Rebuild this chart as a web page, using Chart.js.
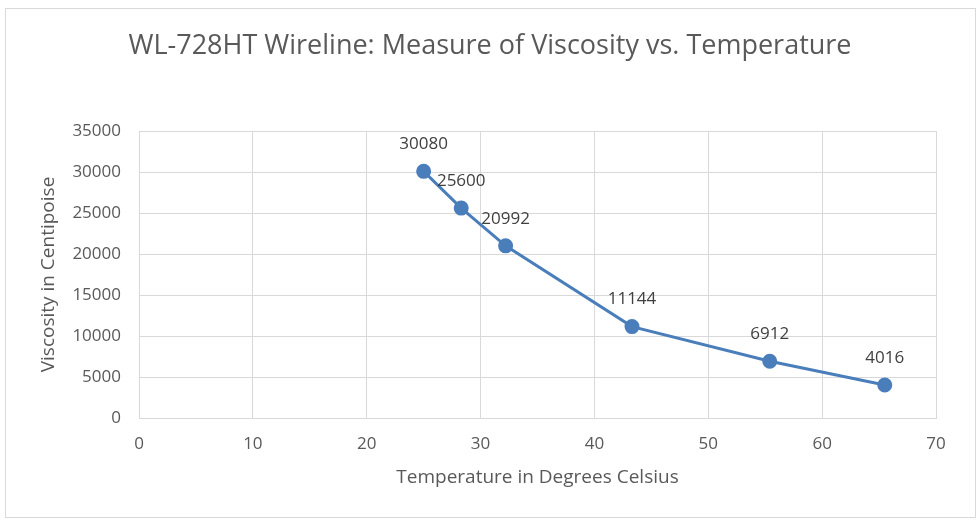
<!DOCTYPE html>
<html><head><meta charset="utf-8">
<script src="https://cdn.jsdelivr.net/npm/chart.js@4"></script>
<style>
html,body{margin:0;padding:0;background:#fff;}
#wrap{position:relative;width:980px;height:523px;}
#frame{position:absolute;left:5px;top:8px;width:969px;height:508px;border:1px solid #d9d9d9;pointer-events:none;}
</style></head>
<body>
<div id="wrap"><canvas id="c" width="980" height="523"></canvas><div id="frame"></div></div>
<script>
const temperatures = [25, 28.3, 32.2, 43.3, 55.4, 65.5];
const viscosities = [30080, 25600, 20992, 11144, 6912, 4016];
const xTicks = [0, 10, 20, 30, 40, 50, 60, 70];
const yTicks = [0, 5000, 10000, 15000, 20000, 25000, 30000, 35000];

const FONT = "'Open Sans', 'Liberation Sans', sans-serif";

const labelPlugin = {
  id: 'pointLabels',
  afterDatasetsDraw(chart) {
    const ctx = chart.ctx;
    const meta = chart.getDatasetMeta(0);
    ctx.save();
    ctx.font = "17px " + FONT;
    ctx.fillStyle = '#404040';
    ctx.textAlign = 'center';
    ctx.textBaseline = 'middle';
    meta.data.forEach((pt, i) => {
      ctx.fillText(String(viscosities[i]), pt.x, pt.y - 27);
    });
    ctx.restore();
  }
};

new Chart(document.getElementById('c'), {
  type: 'scatter',
  data: {
    datasets: [{
      data: temperatures.map((t, i) => ({x: t, y: viscosities[i]})),
      showLine: true,
      borderColor: '#4a7ebb',
      backgroundColor: '#4a7ebb',
      borderWidth: 3,
      pointRadius: 6,
      pointHoverRadius: 6,
      tension: 0
    }]
  },
  options: {
    responsive: false,
    animation: false,
    events: [],
    layout: {padding: 0},
    plugins: {
      legend: {display: false},
      tooltip: {enabled: false},
      title: {
        display: true,
        text: 'WL-728HT Wireline: Measure of Viscosity vs. Temperature',
        color: '#595959',
        font: {family: FONT, size: 27, weight: 'normal', lineHeight: 1.2},
        padding: {top: 30, bottom: 68.6}
      }
    },
    scales: {
      x: {
        type: 'linear',
        min: 0, max: 70,
        afterBuildTicks: (s) => { s.ticks = xTicks.map(v => ({value: v})); },
        ticks: {color: '#595959', font: {family: FONT, size: 17}, padding: 16},
        grid: {color: '#d9d9d9', drawTicks: false},
        border: {color: '#d9d9d9'},
        title: {display: true, text: 'Temperature in Degrees Celsius', color: '#595959',
                font: {family: FONT, size: 19}, padding: {top: 0, bottom: 34}},
        afterFit: (s) => { s.height = 105; s.paddingRight = 44; }
      },
      y: {
        type: 'linear',
        min: 0, max: 35000,
        afterBuildTicks: (s) => { s.ticks = yTicks.map(v => ({value: v})); },
        ticks: {color: '#595959', font: {family: FONT, size: 17}, padding: 18,
                callback: (v) => String(v)},
        grid: {color: '#d9d9d9', drawTicks: false},
        border: {color: '#d9d9d9'},
        title: {display: true, text: 'Viscosity in Centipoise', color: '#595959',
                font: {family: FONT, size: 19}, padding: {top: 37, bottom: 0}},
        afterFit: (s) => { s.width = 139; }
      }
    }
  },
  plugins: [labelPlugin]
});
</script>
</body></html>
